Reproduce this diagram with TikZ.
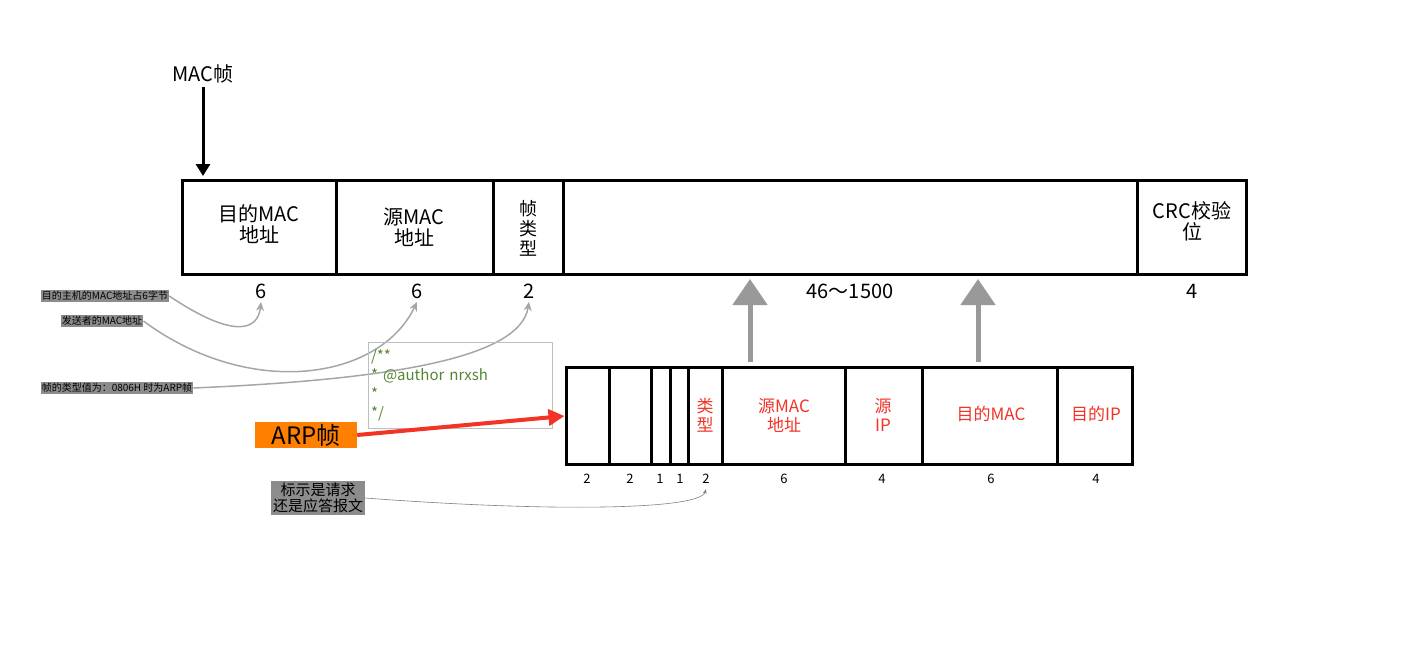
\documentclass[tikz,border=0pt]{standalone}
\usepackage{fontspec}
\setmainfont{Noto Sans CJK SC}
\usepackage{xcolor}
\usetikzlibrary{arrows.meta}
\definecolor{arpred}{rgb}{0.95,0.2,0.15}
\definecolor{codegreen}{rgb}{0.33,0.52,0.2}
\definecolor{notegray}{gray}{0.55}
\tikzset{
	field/.style = {draw=black, line width=3pt, inner sep=0pt, align=center},
	bigtext/.style = {font=\fontsize{20}{21}\selectfont, align=center},
	redtext/.style = {text=arpred, font=\fontsize{17}{19}\selectfont, align=center},
	small/.style = {font=\fontsize{13}{14}\selectfont},
	note/.style = {fill=notegray, inner sep=1pt, font=\fontsize{10}{11}\selectfont},
	callout/.style = {draw=gray!70, line width=1.5pt, -{Stealth[length=9pt,width=8pt]}},
	bigup/.style = {draw=gray!80, line width=5pt, -{Triangle[length=26pt,width=34pt]}},
}
\begin{document}
\begin{tikzpicture}[x=1pt,y=-1pt]
	\useasboundingbox (0,0) rectangle (1413,657);
	% MAC frame
	\node[field, minimum width=1064, minimum height=94] (mac) at (714,227) {};
	\foreach \x in {336,493,563,1137} \draw[line width=3pt] (\x,180) -- (\x,274);
	\node[bigtext] (dst) at (259,224) {目的MAC\\地址};
	\node[bigtext] (src) at (414,227) {源MAC\\地址};
	\node[bigtext, font=\fontsize{18}{20}\selectfont] (typ) at (528,228) {帧\\类\\型};
	\node[bigtext] (crc) at (1192,221) {CRC校验\\位};
	\node[bigtext] (n1) at (261,291) {6};
	\node[bigtext] (n2) at (417,291) {6};
	\node[bigtext] (n3) at (529,291) {2};
	\node[bigtext] (n4) at (850,291) {46～1500};
	\node[bigtext] (n5) at (1192,291) {4};
	\node[bigtext] (title) at (203,74) {MAC帧};
	\coordinate (mactop) at (203,176);
	\draw[line width=3pt, -{Triangle[length=12pt,width=14pt]}] (title) -- (mactop);

	% ARP frame
	\node[field, minimum width=566, minimum height=97] (arp) at (849,416) {};
	\foreach \x in {609,651,670,688,722,845,922,1057} \draw[line width=3pt] (\x,368) -- (\x,465);
	\node[redtext] at (705,415) {类\\型};
	\node[redtext] at (784,415) {源MAC\\地址};
	\node[redtext] at (883,415) {源\\IP};
	\node[redtext] at (991,414) {目的MAC};
	\node[redtext] at (1096,414) {目的IP};
	\foreach \x/\t in {587/2,630/2,660/1,680/1,706/2,784/6,882/4,991/6,1096/4}
		\node[small] at (\x,479) {\t};
	\coordinate (upa) at (750,362);
	\coordinate (upa') at (750,279);
	\coordinate (upb) at (978,362);
	\coordinate (upb') at (978,279);
	\draw[bigup] (upa) -- (upa');
	\draw[bigup] (upb) -- (upb');

	% notes
	\node[note] (ndst) at (105,296) {目的主机的MAC地址占6字节};
	\node[note] (nsrc) at (102,321) {发送者的MAC地址};
	\node[note] (ntyp) at (117,388) {帧的类型值为：0806H 时为ARP帧};
	\draw[callout] (ndst.east) .. controls (235,340) and (258,330) .. (n1.south);
	\draw[callout] (nsrc.east) .. controls (250,400) and (380,380) .. (n2.south);
	\draw[callout] (ntyp.east) .. controls (380,380) and (520,360) .. (n3.south);

	\node[draw=gray!50, line width=1pt, text width=178, minimum height=86, text=codegreen,
		align=left, font=\fontsize{15}{19}\selectfont, inner sep=3pt] (code) at (460,385)
		{/**\\{}* @author nrxsh\\{}*\\{}*/};

	\node[fill=orange, font=\fontsize{24}{26}\selectfont, inner sep=2pt, minimum width=102] (arptag) at (306,435) {ARP帧};
	\draw[arpred, line width=4pt, -{Triangle[length=16pt,width=16pt]}] (arptag.east) -- (arp.west);

	\node[fill=notegray, font=\fontsize{15}{16}\selectfont, align=center, inner sep=2pt] (nop) at (318,498) {标示是请求\\还是应答报文};
	\coordinate (optgt) at (706,489);
	\draw[gray, line width=0.6pt, -{Stealth[length=5pt]}] (nop.east) .. controls (550,512) and (700,510) .. (optgt);
\end{tikzpicture}
\end{document}
